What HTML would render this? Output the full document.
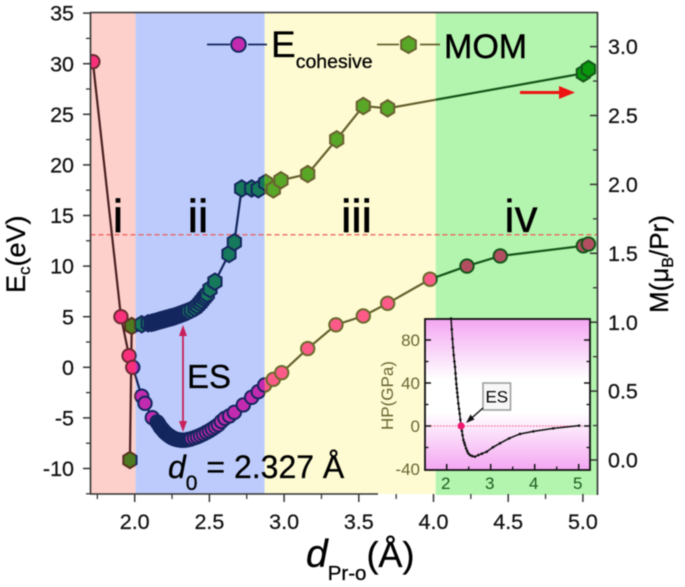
<!DOCTYPE html>
<html>
<head>
<meta charset="utf-8">
<style>
html,body{margin:0;padding:0;background:#fff;}
svg{display:block;filter:blur(0.4px);font-family:"Liberation Sans",sans-serif;}
</style>
</head>
<body>
<svg id="chart" xmlns="http://www.w3.org/2000/svg" width="685" height="587" viewBox="0 0 685 587">
  <defs>
    <linearGradient id="insetBg" x1="0" y1="0" x2="0" y2="1">
      <stop offset="0" stop-color="#f4a6f2"/>
      <stop offset="0.4" stop-color="#ffffff"/>
      <stop offset="0.62" stop-color="#ffffff"/>
      <stop offset="1" stop-color="#f4a6f2"/>
    </linearGradient>
  </defs>
  <g id="bands"></g>
  <line id="refLine" stroke="#ef5a5a" stroke-width="1.3" stroke-dasharray="5 3"/>
  <g id="series"></g>
  <g id="axes"></g>

  <text x="118" y="232" font-size="46" text-anchor="middle" stroke="#000" stroke-width="0.7">i</text>
  <text x="198" y="232" font-size="46" text-anchor="middle" stroke="#000" stroke-width="0.7">ii</text>
  <text x="356.5" y="232" font-size="46" text-anchor="middle" stroke="#000" stroke-width="0.7">iii</text>
  <text x="521" y="232" font-size="46" text-anchor="middle" stroke="#000" stroke-width="0.3">iv</text>

  <g>
    <line x1="207" x2="230" y1="44.5" y2="44.5" stroke="#14265e" stroke-width="1.8"/>
    <line x1="248" x2="267" y1="44.5" y2="44.5" stroke="#14265e" stroke-width="1.8"/>
    <circle cx="238.5" cy="44.5" r="7.3" fill="#c22bb0" stroke="#14265e" stroke-width="1.9"/>
    <text x="271" y="57" font-size="37" stroke="#000" stroke-width="0.3">E<tspan font-size="19.5" dy="11">cohesive</tspan></text>
    <line x1="377" x2="399" y1="44.5" y2="44.5" stroke="#66602e" stroke-width="1.8"/>
    <line x1="420" x2="440" y1="44.5" y2="44.5" stroke="#66602e" stroke-width="1.8"/>
    <polygon points="408.5,36.2 415.9,40.4 415.9,48.8 408.5,53 401.1,48.8 401.1,40.4" fill="#59a727" stroke="#66602e" stroke-width="1.9"/>
    <text x="444" y="58" font-size="34" stroke="#000" stroke-width="0.4">MOM</text>
  </g>

  <g>
    <line x1="520" x2="561" y1="92.5" y2="92.5" stroke="#ee1313" stroke-width="3"/>
    <polygon points="559,86 575,92.5 559,99" fill="#ee1313"/>
  </g>

  <g>
    <line x1="183" x2="183" y1="330" y2="428" stroke="#c8205a" stroke-width="1.8"/>
    <polygon points="183,325 187,336 179,336" fill="#c8205a"/>
    <polygon points="183,432 187,421 179,421" fill="#c8205a"/>
    <text x="187" y="388" font-size="33" stroke="#000" stroke-width="0.3">ES</text>
  </g>

  <text x="168" y="478" font-size="32" stroke="#000" stroke-width="0.3"><tspan font-style="italic">d</tspan><tspan font-size="21" dy="12">0</tspan><tspan dy="-12"> = 2.327 Å</tspan></text>

  <text transform="translate(25,293) rotate(-90)" font-size="27" stroke="#000" stroke-width="0.3">E<tspan font-size="17" dy="5">c</tspan><tspan dy="-5">(eV)</tspan></text>
  <text transform="translate(668,313) rotate(-90)" font-size="26" stroke="#000" stroke-width="0.3">M(μ<tspan font-size="16" dy="5">B</tspan><tspan dy="-5">/Pr)</tspan></text>
  <text x="306" y="567" font-size="39" stroke="#000" stroke-width="0.3"><tspan font-style="italic">d</tspan><tspan font-size="20.5" dy="13">Pr-o</tspan><tspan font-size="36" dy="-13">(Å)</tspan></text>

  <g id="inset">
    <rect x="425" y="319" width="165" height="151" fill="url(#insetBg)"/>
    <g id="insetPlot"></g>
    <rect x="425" y="319" width="165" height="151" fill="none" stroke="#111" stroke-width="1.8"/>
    <text transform="translate(393,430) rotate(-90)" font-size="17" fill="#6b6634">HP(GPa)</text>
    <rect x="483" y="383" width="27.5" height="27" fill="#f7f7f7" stroke="#999" stroke-width="1.5"/>
    <text x="496.8" y="402.5" font-size="17" text-anchor="middle">ES</text>
    <line x1="483" y1="408" x2="470" y2="419.5" stroke="#111" stroke-width="1.4"/>
    <polygon points="466,423 470.5,414.5 474.5,419.5" fill="#111"/>
  </g>
</svg>
<script>
// Main chart data
const energyD = [1.72,1.908,1.962,1.987,2.047,2.069,2.118,2.15,2.155,2.16,2.165,2.17,2.175,2.18,2.185,2.19,2.195,2.20,2.205,2.21,2.215,2.22,2.225,2.23,2.235,2.24,2.245,2.25,2.26,2.27,2.28,2.29,2.30,2.31,2.32,2.33,2.34,2.35,2.36,2.37,2.38,2.40,2.42,2.44,2.46,2.48,2.50,2.52,2.54,2.56,2.58,2.604,2.635,2.667,2.727,2.783,2.827,2.87,2.928,2.984,3.158,3.347,3.53,3.693,3.977,4.224,4.447,5.003,5.037];
const energyE = [30.2,5.0,1.15,0.0,-2.85,-3.56,-4.98,-5.4,-5.5,-5.6,-5.73,-5.87,-5.96,-6.05,-6.12,-6.2,-6.3,-6.4,-6.46,-6.52,-6.58,-6.65,-6.7,-6.76,-6.81,-6.86,-6.9,-6.95,-7.02,-7.08,-7.12,-7.15,-7.18,-7.2,-7.2,-7.2,-7.19,-7.17,-7.13,-7.1,-7.05,-6.96,-6.85,-6.72,-6.58,-6.42,-6.26,-6.08,-5.88,-5.67,-5.35,-5.04,-4.8,-4.45,-3.72,-2.97,-2.41,-1.75,-1.19,-0.53,1.85,4.2,5.07,6.32,8.7,10.0,11.0,12.0,12.18];
const momD = [1.968,1.98,2.047,2.09,2.11,2.12,2.13,2.14,2.15,2.16,2.17,2.18,2.19,2.20,2.21,2.22,2.23,2.24,2.25,2.26,2.27,2.28,2.29,2.30,2.31,2.32,2.33,2.34,2.35,2.36,2.38,2.404,2.42,2.437,2.45,2.464,2.475,2.486,2.504,2.537,2.631,2.667,2.716,2.783,2.827,2.877,2.928,2.979,3.158,3.352,3.53,3.693,5.003,5.037];
const momM = [0.0,0.972,0.985,0.992,0.995,0.998,1.0,1.003,1.006,1.01,1.013,1.016,1.019,1.022,1.025,1.028,1.031,1.034,1.037,1.04,1.043,1.047,1.051,1.055,1.059,1.063,1.067,1.071,1.075,1.08,1.09,1.103,1.12,1.139,1.157,1.176,1.19,1.205,1.24,1.294,1.495,1.58,1.97,1.97,1.965,2.012,1.964,2.03,2.075,2.327,2.569,2.552,2.806,2.837];
const bandEdges = [1.704,2.006,2.87,4.015,5.098];
const referenceEnergy = 13.1;
const xTicks = [2.0,2.5,3.0,3.5,4.0,4.5,5.0];
const xTickLabels = ["2.0","2.5","3.0","3.5","4.0","4.5","5.0"];
const xMinorTicks = [1.75,2.25,2.75,3.25,3.75,4.25,4.75];
const yTicks = [35,30,25,20,15,10,5,0,-5,-10];
const yTickLabels = ["35","30","25","20","15","10","5","0","-5","-10"];
const yMinorTicks = [32.5,27.5,22.5,17.5,12.5,7.5,2.5,-2.5,-7.5,-12.5];
const rightTicks = [3.0,2.5,2.0,1.5,1.0,0.5,0.0];
const rightTickLabels = ["3.0","2.5","2.0","1.5","1.0","0.5","0.0"];
const rightMinorTicks = [2.75,2.25,1.75,1.25,0.75,0.25];

// Inset data
const hpD = [2.098,2.115,2.13,2.145,2.16,2.175,2.189,2.2,2.21,2.22,2.23,2.24,2.25,2.264,2.28,2.295,2.31,2.327,2.345,2.36,2.38,2.4,2.416,2.44,2.465,2.49,2.53,2.58,2.643,2.72,2.8,2.91,3.05,3.21,3.42,3.666,3.97,4.42,5.01];
const hpP = [100,90,81,73,66,60,55,49,44,39,35,31,27,21,16,11.5,6,0,-4.5,-8.5,-13,-15.5,-17.7,-20.8,-23.2,-25.4,-27,-28,-28.5,-27,-25.8,-23.9,-19.8,-16.1,-11.5,-7.4,-5,-2.2,0.3];
const insetXTicks = [2,3,4,5];
const insetXTickLabels = ["2","3","4","5"];
const insetXMinor = [2.5,3.5,4.5];
const insetYTicks = [80,40,0,-40];
const insetYTickLabels = ["80","40","0","-40"];
const insetYMinor = [60,20,-20];
const esPoint = [2.327,0];

const NS = "http://www.w3.org/2000/svg";
function xScale(d){return 134.7+149.4*(d-2);}
function yScale(v){return 367.3-10.12*v;}
function mScale(m){return 460-137.8*m;}
function ixScale(d){return 446.7+44*(d-2);}
function iyScale(p){return 426-1.075*p;}
function mk(tag,parent){const e=document.createElementNS(NS,tag);parent.appendChild(e);return e;}
function attrs(e,o){for(const k in o){e.setAttribute(k,o[k]);}return e;}
function hexPoints(cx,cy,r){
  const p=[];
  for(let i=0;i<6;i++){
    const a=Math.PI/3*i-Math.PI/2;
    p.push((cx+r*0.93*Math.cos(a)).toFixed(2)+","+(cy+r*Math.sin(a)).toFixed(2));
  }
  return p.join(" ");
}

const defs=document.querySelector("defs");
const bandFills=["#fdd0cb","#bccbfb","#fefbd2","#b3f4ae"];
const bandNames=["region-i-band","region-ii-band","region-iii-band","region-iv-band"];
const energyStyle=[
 {line:"#4a2020",fill:"#f8307c",edge:"#6a2a30"},
 {line:"#14265e",fill:"#c22bb0",edge:"#14265e"},
 {line:"#66602e",fill:"#fc5a88",edge:"#6a6a2c"},
 {line:"#14561a",fill:"#b24e60",edge:"#14561a"}];
const momStyle=[
 {line:"#4a2020",fill:"#4e7a22",edge:"#5a3020"},
 {line:"#14265e",fill:"#16795c",edge:"#14265e"},
 {line:"#66602e",fill:"#59a727",edge:"#6a6030"},
 {line:"#14561a",fill:"#0a980e",edge:"#14561a"}];

const bandsG=document.getElementById("bands");
const seriesG=document.getElementById("series");
const bandBottom=[494,494,494,495];
for(let b=0;b<4;b++){
  const x0=xScale(bandEdges[b]),x1=xScale(bandEdges[b+1]);
  const r=mk("rect",bandsG);
  attrs(r,{x:x0,y:12.5,width:x1-x0,height:bandBottom[b]-12.5,fill:bandFills[b]});
  
  
  const cp=mk("clipPath",defs);
  cp.setAttribute("id","clip"+b);
  attrs(mk("rect",cp),{x:x0,y:12.5,width:x1-x0,height:482});
}
const ref=document.getElementById("refLine");
attrs(ref,{x1:xScale(bandEdges[0]),x2:xScale(bandEdges[4]),y1:yScale(referenceEnergy),y2:yScale(referenceEnergy)});

for(let b=0;b<4;b++){
  const g=mk("g",seriesG);
  g.setAttribute("clip-path","url(#clip"+b+")");
  
  
  // MOM series
  const mLine=mk("polyline",g);
  attrs(mLine,{points:momD.map((d,i)=>xScale(d)+","+mScale(momM[i])).join(" "),fill:"none",stroke:momStyle[b].line,"stroke-width":2.2});
  
  
  momD.forEach((d,i)=>{
    const h=mk("polygon",g);
    attrs(h,{points:hexPoints(xScale(d),mScale(momM[i]),8.2),fill:momStyle[b].fill,stroke:momStyle[b].edge,"stroke-width":2});
    
    
  });
  // Energy series
  const eLine=mk("polyline",g);
  attrs(eLine,{points:energyD.map((d,i)=>xScale(d)+","+yScale(energyE[i])).join(" "),fill:"none",stroke:energyStyle[b].line,"stroke-width":2.2});
  
  
  energyD.forEach((d,i)=>{
    const c=mk("circle",g);
    attrs(c,{cx:xScale(d),cy:yScale(energyE[i]),r:6.7,fill:energyStyle[b].fill,stroke:energyStyle[b].edge,"stroke-width":2});
    
    
  });
}

// Main axes
const axes=document.getElementById("axes");
const axisColor="#333";
function seg(parent,x1,y1,x2,y2,w,col){
  const l=mk("line",parent);
  attrs(l,{x1:x1,y1:y1,x2:x2,y2:y2,stroke:col,"stroke-width":w});
  return l;
}
const leftLine=seg(axes,90.5,12,90.5,494,1.6,axisColor);


const topLine=seg(axes,90,12.5,598,12.5,1.6,axisColor);


const rightLine=seg(axes,597.5,12,597.5,495,1.6,axisColor);


const bottomLine=seg(axes,90,494,378,494,1.6,axisColor);



const labelStroke={stroke:"#111","stroke-width":0.25};
yTicks.forEach((v,i)=>{
  const y=yScale(v);
  const t=seg(axes,83,y,90.5,y,1.5,axisColor);
  
  
  const s=mk("text",axes);
  attrs(s,{x:74,y:y+7.6,"font-size":21.5,"text-anchor":"end",fill:"#111"});
  attrs(s,labelStroke);
  s.textContent=yTickLabels[i];
  
  
});
yMinorTicks.forEach(v=>{
  const y=yScale(v);
  const t=seg(axes,86,y,90.5,y,1.3,axisColor);
  
  
});
xTicks.forEach((v,i)=>{
  const x=xScale(v);
  const t=seg(axes,x,494,x,502,1.5,axisColor);
  
  
  const s=mk("text",axes);
  attrs(s,{x:x,y:529,"font-size":21.5,"text-anchor":"middle",fill:"#111"});
  attrs(s,labelStroke);
  s.textContent=xTickLabels[i];
  
  
});
xMinorTicks.forEach(v=>{
  const x=xScale(v);
  const t=seg(axes,x,494,x,499,1.3,axisColor);
  
  
});
rightTicks.forEach((v,i)=>{
  const y=mScale(v);
  const t=seg(axes,590,y,597.5,y,1.5,axisColor);
  
  
  const s=mk("text",axes);
  attrs(s,{x:608,y:y+7.6,"font-size":21.5,fill:"#111"});
  attrs(s,labelStroke);
  s.textContent=rightTickLabels[i];
  
  
});
rightMinorTicks.forEach(v=>{
  const y=mScale(v);
  const t=seg(axes,593,y,597.5,y,1.3,axisColor);
  
  
});

// Inset
const ip=document.getElementById("insetPlot");
const zeroLine=seg(ip,425,iyScale(0),590,iyScale(0),1,"#f05a78");
zeroLine.setAttribute("stroke-dasharray","1.5 1.5");


const hpLine=mk("polyline",ip);
attrs(hpLine,{points:hpD.map((d,i)=>ixScale(d)+","+iyScale(hpP[i])).join(" "),fill:"none",stroke:"#111","stroke-width":1.5});


hpD.forEach((d,i)=>{
  const c=mk("circle",ip);
  attrs(c,{cx:ixScale(d),cy:iyScale(hpP[i]),r:1.3,fill:"#111"});
  
  
});
const esDot=mk("circle",ip);
attrs(esDot,{cx:ixScale(esPoint[0]),cy:iyScale(esPoint[1]),r:3.6,fill:"#f01870"});


insetYTicks.forEach((v,i)=>{
  const y=iyScale(v);
  if(v>-40){
    const a=seg(ip,425,y,431,y,1.5,"#111");
    
    
    const b=seg(ip,584,y,590,y,1.5,"#111");
    
    
  }
  const s=mk("text",ip);
  attrs(s,{x:420,y:y+6.2,"font-size":17,"text-anchor":"end",fill:"#6b6634"});
  s.textContent=insetYTickLabels[i];
  
  
});
insetYMinor.forEach(v=>{
  const y=iyScale(v);
  const a=seg(ip,425,y,428.5,y,1.3,"#111");
  
  
  const b=seg(ip,586.5,y,590,y,1.3,"#111");
  
  
});
insetXTicks.forEach((v,i)=>{
  const x=ixScale(v);
  const t=seg(ip,x,464,x,470,1.5,"#111");
  
  
  const s=mk("text",ip);
  attrs(s,{x:x-1,y:489,"font-size":17,"text-anchor":"middle",fill:"#1a5c20"});
  s.textContent=insetXTickLabels[i];
  
  
});
insetXMinor.forEach(v=>{
  const x=ixScale(v);
  const t=seg(ip,x,466.5,x,470,1.3,"#111");
  
  
});
</script>
</body>
</html>
